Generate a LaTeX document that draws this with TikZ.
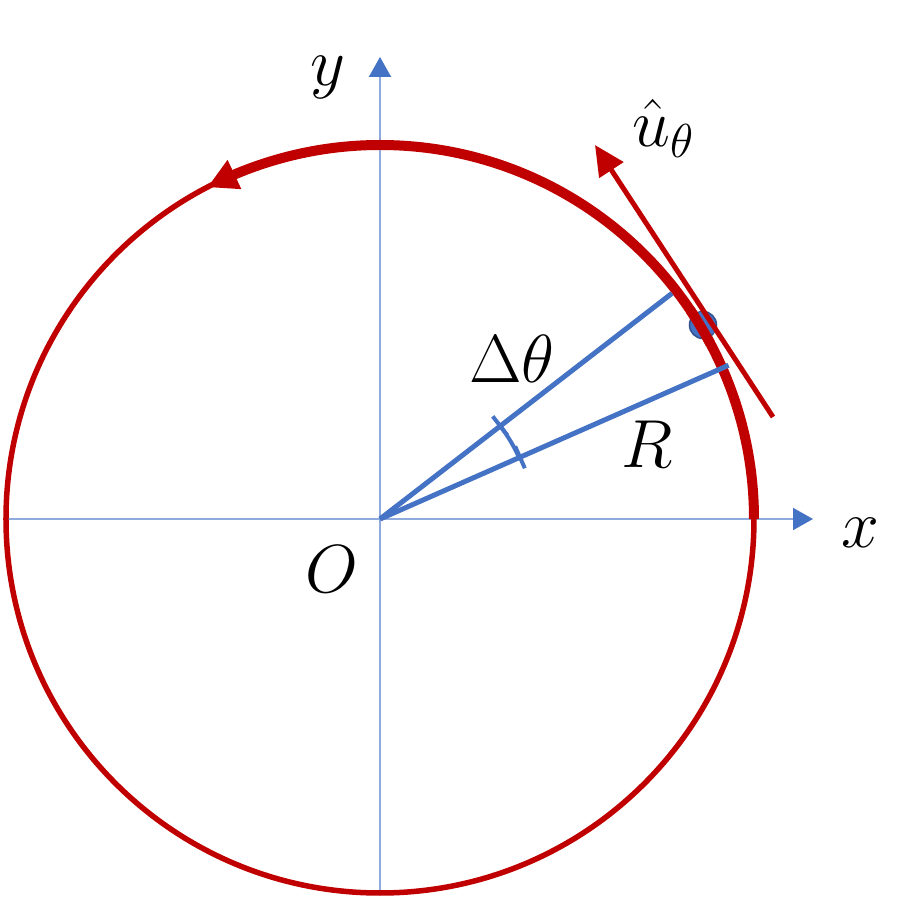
\RequirePackage{fix-cm}
\documentclass[tikz,border=0pt]{standalone}
\usepackage{amsmath}
\usetikzlibrary{arrows.meta,bending}
\definecolor{cred}{HTML}{C00000}
\definecolor{cblue}{HTML}{4472C4}
\definecolor{cbluedark}{HTML}{2F528F}
\definecolor{caxis}{HTML}{8FAADC}
\tikzset{
  axisline/.style={draw=caxis,line width=2pt,-{Triangle[length=20pt,width=22pt,color=cblue,fill=cblue]}},
  radius line/.style={draw=cblue,line width=5pt},
  anglemark/.style={draw=cblue,line width=4pt},
  lbl/.style={inner sep=0pt,font=\fontsize{68}{72}\selectfont},
  thincirc/.style={draw=cred,line width=5.5pt},
  thickarc/.style={draw=cred,line width=10pt,-{Triangle[length=30pt,width=30pt]}},
  tangentvec/.style={draw=cred,line width=5pt,-{Triangle[length=30pt,width=28pt]}}
}
\begin{document}
\begin{tikzpicture}[x=1pt,y=1pt]
\useasboundingbox (-380,-378) rectangle (526,519);
\coordinate (O) at (0,0);
% axes
\coordinate (xs) at (-374,0);
\coordinate (xe) at (433,0);
\coordinate (ys) at (0,-374);
\coordinate (ye) at (0,462);
\draw[axisline] (xs) -- (xe);
\draw[axisline] (ys) -- (ye);
% circle
\draw[thincirc] (O) circle[radius=374];
\draw[thickarc] (0:374) arc[start angle=0,end angle=117.5,radius=374];
% radii
\coordinate (A) at (37.7:369);
\coordinate (B) at (23.8:381);
\draw[radius line] (O) -- (A);
\draw[radius line] (O) -- (B);
% angle mark
\draw[anglemark] (37.8:152) ++(127.8:12) -- ++(-52.2:24);
\draw[anglemark] (23.8:153) ++(113.8:12) -- ++(-66.2:24);
\draw[anglemark] (37.8:152) arc[start angle=37.8,end angle=23.8,radius=152];
% particle
\node[circle,fill=cblue,draw=cbluedark,line width=1.5pt,minimum size=27pt,inner sep=0pt] (P) at (323,194) {};
\node[rectangle,fill=cblue,minimum width=25pt,minimum height=14pt,inner sep=0pt,rotate=-57] (Pr) at (P) {};
% redraw arc segment over particle
\draw[draw=cred,line width=10pt] (28:374) arc[start angle=28,end angle=34,radius=374];
% tangent vector
\coordinate (T0) at (393,102);
\coordinate (T1) at (215,374);
\draw[tangentvec] (T0) -- (T1);
% labels
\node[lbl,anchor=base] (ly) at (-52,433) {$y$};
\node[lbl,anchor=base] (lx) at (480,-29) {$x$};
\node[lbl,anchor=base] (lO) at (-48,-74) {$O$};
\node[lbl,anchor=base] (lR) at (267,51) {$R$};
\node[lbl,anchor=base] (ld) at (132,136) {$\Delta\theta$};
\node[lbl,anchor=base west] (lu) at (252,372) {$\hat{u}_\theta$};
\end{tikzpicture}
\end{document}
